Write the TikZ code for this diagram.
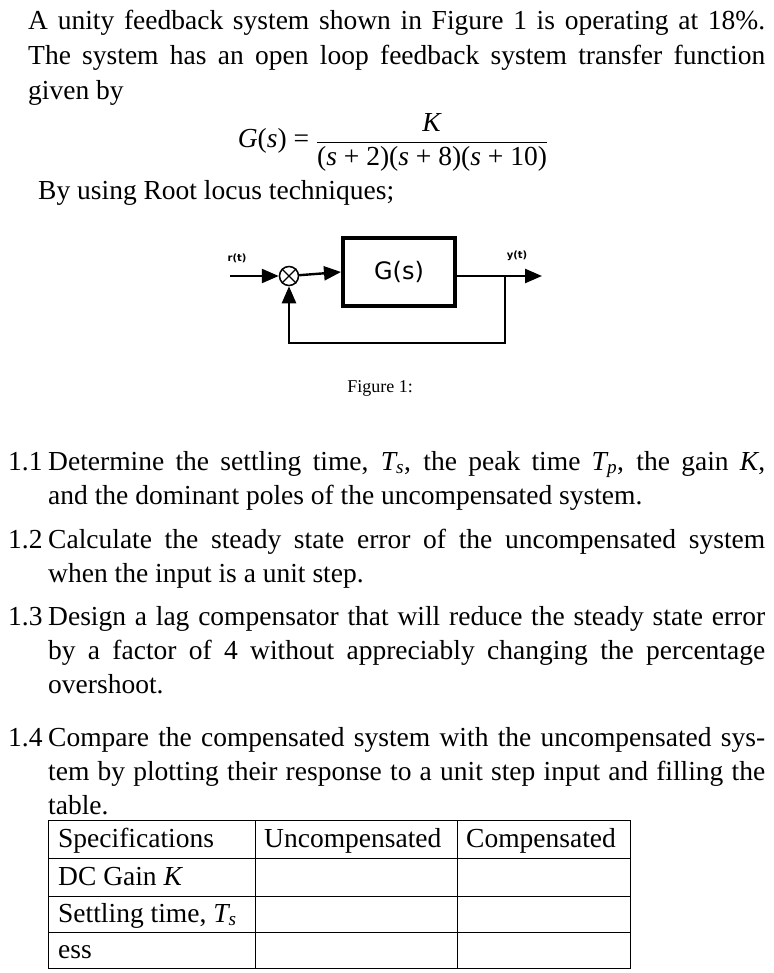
\documentclass[tikz,border=0pt]{standalone}
\usepackage{fontspec}
\setmainfont{Liberation Serif}
\setsansfont{DejaVu Sans}
\usetikzlibrary{arrows.meta}
\newcommand\mv[1]{\textit{#1}}
\newcommand\jtxt[5]{\node[anchor=base west,inner sep=0,font=\fontsize{27.5}{30}\selectfont] (#1) at (#2,#3) {\hbox to #4pt{#5}};}
\newcommand\ltxt[4]{\node[anchor=base west,inner sep=0,font=\fontsize{27.5}{30}\selectfont] (#1) at (#2,#3) {#4};}
\begin{document}
\begin{tikzpicture}[x=1pt,y=-1pt,
  wire/.style={line width=2.4pt},
  arr/.style={wire,-{Triangle[length=17pt,width=14pt]}},
  cell/.style={draw,line width=0.6pt}]
\useasboundingbox (0,0) rectangle (773,973);
\jtxt{l1}{28}{30}{737}{A unity feedback system shown in Figure 1 is operating at 18\%.}
\jtxt{l2}{28}{65}{737}{The system has an open loop feedback system transfer function}
\ltxt{l3}{28}{100}{given by}
\node[font=\fontsize{27.5}{30}\selectfont,inner sep=0] (eq) at (393,142) {$\displaystyle \mbox{\mv{G}(\mv{s}) =}\ \frac{\mbox{\mv{K}}}{\mbox{(\mv{s} + 2)(\mv{s} + 8)(\mv{s} + 10)}}$};
\ltxt{l4}{38}{200}{By using Root locus techniques;}
% block diagram
\node[draw,line width=4pt,minimum width=112pt,minimum height=67pt,font=\sffamily\fontsize{24}{26}\selectfont] (G) at (399,272) {G(s)};
\node[draw,circle,line width=1.5pt,minimum size=19pt,inner sep=0] (sum) at (289,276) {};
\draw[line width=1.3pt] (sum.north west)--(sum.south east) (sum.north east)--(sum.south west);
\coordinate (in) at (230,276);
\coordinate (out) at (542,276);
\coordinate (br) at (505,276);
\coordinate (bl) at (505,343);
\coordinate (bb) at (289,343);
\draw[arr] (in)--(sum);
\draw[arr] (sum)--(G.west);
\draw[arr] (G.east|-out) -- (out);
\draw[wire] (br)--(bl)--(bb)--++(0,-40);
\draw[arr] (289,310)--(sum);
\node[font=\sffamily\bfseries\fontsize{10}{11}\selectfont] (rt) at (237,258) {r(t)};
\node[font=\sffamily\bfseries\fontsize{10}{11}\selectfont] (yt) at (517,256) {y(t)};
\node[font=\fontsize{18}{20}\selectfont,anchor=base] (fig) at (380,392) {Figure 1:};
% items
\ltxt{n1}{8}{470}{1.1}
\jtxt{a1}{48}{470}{717}{Determine the settling time, \mv{T\textsubscript{s}}, the peak time \mv{T\textsubscript{p}}, the gain \mv{K},}
\ltxt{a2}{48}{504}{and the dominant poles of the uncompensated system.}
\ltxt{n2}{8}{548}{1.2}
\jtxt{b1}{48}{548}{717}{Calculate the steady state error of the uncompensated system}
\ltxt{b2}{48}{582}{when the input is a unit step.}
\ltxt{n3}{8}{625}{1.3}
\jtxt{c1}{48}{625}{717}{Design a lag compensator that will reduce the steady state error}
\jtxt{c2}{48}{659}{717}{by a factor of 4 without appreciably changing the percentage}
\ltxt{c3}{48}{693}{overshoot.}
\ltxt{n4}{8}{746}{1.4}
\jtxt{d1}{48}{746}{717}{Compare the compensated system with the uncompensated sys-}
\jtxt{d2}{48}{780}{717}{tem by plotting their response to a unit step input and filling the}
\ltxt{d3}{48}{814}{table.}
% table
\draw[cell] (48,820) rectangle (630,968);
\draw[cell] (48,858)--(630,858) (48,896)--(630,896) (48,932)--(630,932);
\draw[cell] (255,820)--(255,968) (457,820)--(457,968);
\ltxt{t11}{58}{847}{Specifications}
\ltxt{t12}{264}{847}{Uncompensated}
\ltxt{t13}{466}{847}{Compensated}
\ltxt{t21}{58}{885}{DC Gain \mv{K}}
\ltxt{t31}{58}{922}{Settling time, \mv{T\textsubscript{s}}}
\ltxt{t41}{58}{958}{ess}
\end{tikzpicture}
\end{document}
